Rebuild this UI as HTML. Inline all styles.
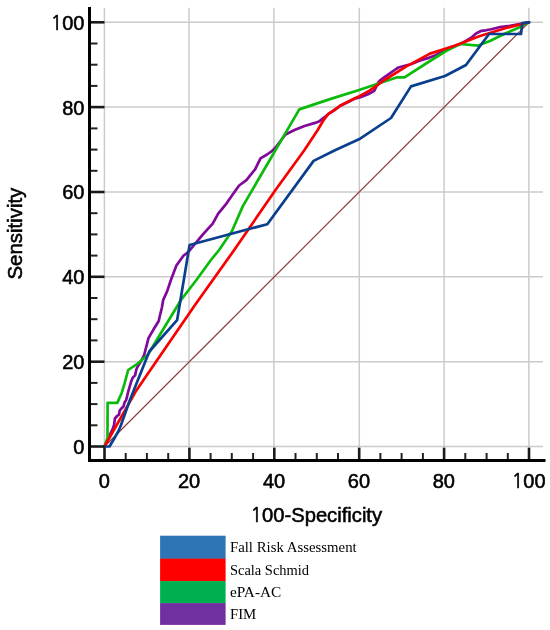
<!DOCTYPE html>
<html><head><meta charset="utf-8"><style>
html,body{margin:0;padding:0;background:#fff;}
body{width:550px;height:630px;overflow:hidden;}
svg{display:block;font-family:"Liberation Sans",Arial,sans-serif;}
text.s{stroke:#000;stroke-width:0.55px;}
</style></head><body>
<svg width="550" height="630" viewBox="0 0 550 630">
<line x1="104.4" y1="7.8" x2="104.4" y2="446.5" stroke="#cbcbcb" stroke-width="1.5"/>
<line x1="189.0" y1="7.8" x2="189.0" y2="446.5" stroke="#cbcbcb" stroke-width="1.5"/>
<line x1="273.9" y1="7.8" x2="273.9" y2="446.5" stroke="#cbcbcb" stroke-width="1.5"/>
<line x1="359.3" y1="7.8" x2="359.3" y2="446.5" stroke="#cbcbcb" stroke-width="1.5"/>
<line x1="444.1" y1="7.8" x2="444.1" y2="446.5" stroke="#cbcbcb" stroke-width="1.5"/>
<line x1="528.9" y1="7.8" x2="528.9" y2="446.5" stroke="#cbcbcb" stroke-width="1.5"/>
<line x1="104.5" y1="446.5" x2="543" y2="446.5" stroke="#cbcbcb" stroke-width="1.5"/>
<line x1="104.5" y1="361.7" x2="543" y2="361.7" stroke="#cbcbcb" stroke-width="1.5"/>
<line x1="104.5" y1="276.8" x2="543" y2="276.8" stroke="#cbcbcb" stroke-width="1.5"/>
<line x1="104.5" y1="192.0" x2="543" y2="192.0" stroke="#cbcbcb" stroke-width="1.5"/>
<line x1="104.5" y1="107.1" x2="543" y2="107.1" stroke="#cbcbcb" stroke-width="1.5"/>
<line x1="104.5" y1="22.3" x2="543" y2="22.3" stroke="#cbcbcb" stroke-width="1.5"/>
<line x1="104.5" y1="446.5" x2="529.0" y2="22.3" stroke="#8e3a3e" stroke-width="1.2"/>
<polyline points="104.5,446.5 112.8,428.5 114.1,425.0 114.9,418.5 117.1,416.0 119.0,414.6 119.8,410.3 121.7,408.1 123.4,406.7 124.7,402.1 126.1,400.2 126.9,397.2 128.3,391.3 131.1,381.7 132.7,377.8 135.1,375.4 136.3,369.8 137.4,367.1 139.4,363.9 141.8,359.9 144.2,354.8 145.4,350.0 146.2,347.0 148.5,338.2 153.6,329.3 158.7,321.0 160.0,315.3 161.9,307.6 163.2,300.0 167.3,290.9 170.9,280.0 176.4,265.5 183.6,255.5 186.4,253.6 190.0,250.0 198.2,240.0 204.5,232.7 212.7,223.6 218.2,213.6 226.4,203.6 232.7,194.5 239.1,185.5 246.4,180.2 255.1,169.3 260.5,158.4 267.1,154.5 272.5,150.7 276.9,145.8 285.5,134.5 294.5,130.0 304.5,126.0 315.0,122.9 319.4,121.3 323.2,118.0 326.0,116.0 328.6,113.8 333.0,111.1 340.0,106.0 354.5,98.7 359.6,97.5 368.0,94.3 374.2,90.9 378.5,82.2 380.5,80.0 385.9,76.2 396.8,68.5 398.5,67.5 406.6,65.3 411.0,64.2 418.6,60.9 429.5,57.6 435.0,55.5 450.0,47.6 461.8,43.4 471.6,37.4 476.0,33.5 481.5,30.8 485.8,30.3 491.3,29.2 500.0,27.0 510.0,25.8 529.0,22.3" fill="none" stroke="#82089a" stroke-width="2.7" stroke-linejoin="round" stroke-linecap="round"/>
<polyline points="104.5,446.5 107.5,438.0 107.6,402.9 117.3,402.9 121.8,392.7 124.5,383.6 128.2,370.0 137.7,363.6 147.9,354.7 155.5,342.0 181.0,300.0 196.4,280.0 210.9,260.0 219.1,250.0 232.0,231.0 242.7,206.4 299.3,109.4 330.0,99.1 359.1,90.0 375.5,84.5 397.3,77.3 404.5,77.3 430.0,61.0 446.0,51.0 460.0,44.0 478.0,45.6 490.0,41.0 504.0,34.0 518.0,28.0 529.0,22.3" fill="none" stroke="#0cba0c" stroke-width="2.7" stroke-linejoin="round" stroke-linecap="round"/>
<polyline points="104.5,446.5 135.5,391.8 143.5,380.0 195.0,305.0 234.2,250.0 275.5,190.0 304.5,150.0 317.7,130.0 323.2,120.7 328.6,113.6 333.0,110.9 340.0,105.8 354.5,98.5 360.4,95.6 369.1,90.9 376.4,85.8 384.5,80.0 406.4,66.4 430.0,53.6 454.0,46.0 480.0,36.0 506.0,28.0 529.0,22.3" fill="none" stroke="#f80000" stroke-width="2.7" stroke-linejoin="round" stroke-linecap="round"/>
<polyline points="104.5,446.5 109.5,446.5 115.3,436.7 118.5,431.0 121.0,425.0 129.9,400.0 149.3,351.5 177.1,320.2 189.6,245.0 267.3,224.2 313.6,160.9 335.5,150.0 359.0,139.3 391.0,118.0 411.0,86.4 445.0,76.0 466.0,65.0 489.0,34.0 521.0,34.0 522.4,23.0 529.0,22.3" fill="none" stroke="#0a3f8e" stroke-width="2.7" stroke-linejoin="round" stroke-linecap="round"/>
<line x1="89.5" y1="7" x2="89.5" y2="462" stroke="#000" stroke-width="3"/>
<line x1="88" y1="460.5" x2="545.5" y2="460.5" stroke="#000" stroke-width="3"/>
<line x1="91" y1="446.5" x2="104.5" y2="446.5" stroke="#1a1a1a" stroke-width="2.6"/>
<line x1="91" y1="425.3" x2="97.5" y2="425.3" stroke="#222" stroke-width="2"/>
<line x1="91" y1="404.1" x2="97.5" y2="404.1" stroke="#222" stroke-width="2"/>
<line x1="91" y1="382.9" x2="97.5" y2="382.9" stroke="#222" stroke-width="2"/>
<line x1="91" y1="361.7" x2="104.5" y2="361.7" stroke="#1a1a1a" stroke-width="2.6"/>
<line x1="91" y1="340.4" x2="97.5" y2="340.4" stroke="#222" stroke-width="2"/>
<line x1="91" y1="319.2" x2="97.5" y2="319.2" stroke="#222" stroke-width="2"/>
<line x1="91" y1="298.0" x2="97.5" y2="298.0" stroke="#222" stroke-width="2"/>
<line x1="91" y1="276.8" x2="104.5" y2="276.8" stroke="#1a1a1a" stroke-width="2.6"/>
<line x1="91" y1="255.6" x2="97.5" y2="255.6" stroke="#222" stroke-width="2"/>
<line x1="91" y1="234.4" x2="97.5" y2="234.4" stroke="#222" stroke-width="2"/>
<line x1="91" y1="213.2" x2="97.5" y2="213.2" stroke="#222" stroke-width="2"/>
<line x1="91" y1="192.0" x2="104.5" y2="192.0" stroke="#1a1a1a" stroke-width="2.6"/>
<line x1="91" y1="170.8" x2="97.5" y2="170.8" stroke="#222" stroke-width="2"/>
<line x1="91" y1="149.6" x2="97.5" y2="149.6" stroke="#222" stroke-width="2"/>
<line x1="91" y1="128.4" x2="97.5" y2="128.4" stroke="#222" stroke-width="2"/>
<line x1="91" y1="107.1" x2="104.5" y2="107.1" stroke="#1a1a1a" stroke-width="2.6"/>
<line x1="91" y1="85.9" x2="97.5" y2="85.9" stroke="#222" stroke-width="2"/>
<line x1="91" y1="64.7" x2="97.5" y2="64.7" stroke="#222" stroke-width="2"/>
<line x1="91" y1="43.5" x2="97.5" y2="43.5" stroke="#222" stroke-width="2"/>
<line x1="91" y1="22.3" x2="104.5" y2="22.3" stroke="#1a1a1a" stroke-width="2.6"/>
<line x1="104.5" y1="447.6" x2="104.5" y2="459" stroke="#1a1a1a" stroke-width="2.6"/>
<line x1="125.7" y1="453" x2="125.7" y2="459" stroke="#222" stroke-width="2"/>
<line x1="146.9" y1="453" x2="146.9" y2="459" stroke="#222" stroke-width="2"/>
<line x1="168.2" y1="453" x2="168.2" y2="459" stroke="#222" stroke-width="2"/>
<line x1="189.4" y1="447.6" x2="189.4" y2="459" stroke="#1a1a1a" stroke-width="2.6"/>
<line x1="210.6" y1="453" x2="210.6" y2="459" stroke="#222" stroke-width="2"/>
<line x1="231.8" y1="453" x2="231.8" y2="459" stroke="#222" stroke-width="2"/>
<line x1="253.1" y1="453" x2="253.1" y2="459" stroke="#222" stroke-width="2"/>
<line x1="274.3" y1="447.6" x2="274.3" y2="459" stroke="#1a1a1a" stroke-width="2.6"/>
<line x1="295.5" y1="453" x2="295.5" y2="459" stroke="#222" stroke-width="2"/>
<line x1="316.8" y1="453" x2="316.8" y2="459" stroke="#222" stroke-width="2"/>
<line x1="338.0" y1="453" x2="338.0" y2="459" stroke="#222" stroke-width="2"/>
<line x1="359.2" y1="447.6" x2="359.2" y2="459" stroke="#1a1a1a" stroke-width="2.6"/>
<line x1="380.4" y1="453" x2="380.4" y2="459" stroke="#222" stroke-width="2"/>
<line x1="401.6" y1="453" x2="401.6" y2="459" stroke="#222" stroke-width="2"/>
<line x1="422.9" y1="453" x2="422.9" y2="459" stroke="#222" stroke-width="2"/>
<line x1="444.1" y1="447.6" x2="444.1" y2="459" stroke="#1a1a1a" stroke-width="2.6"/>
<line x1="465.3" y1="453" x2="465.3" y2="459" stroke="#222" stroke-width="2"/>
<line x1="486.6" y1="453" x2="486.6" y2="459" stroke="#222" stroke-width="2"/>
<line x1="507.8" y1="453" x2="507.8" y2="459" stroke="#222" stroke-width="2"/>
<line x1="529.0" y1="447.6" x2="529.0" y2="459" stroke="#1a1a1a" stroke-width="2.6"/>
<text x="84.4" y="453.6" class="s" text-anchor="end" font-size="20">0</text>
<text x="84.4" y="368.8" class="s" text-anchor="end" font-size="20">20</text>
<text x="84.4" y="283.9" class="s" text-anchor="end" font-size="20">40</text>
<text x="84.4" y="199.1" class="s" text-anchor="end" font-size="20">60</text>
<text x="84.4" y="115.0" class="s" text-anchor="end" font-size="20">80</text>
<text x="84.4" y="30.2" class="s" text-anchor="end" font-size="20"><tspan font-family="NanumGothic, Liberation Sans, sans-serif" font-size="19">1</tspan>00</text>
<text x="104.2" y="488.1" class="s" text-anchor="middle" font-size="20">0</text>
<text x="189.1" y="488.1" class="s" text-anchor="middle" font-size="20">20</text>
<text x="274.0" y="488.1" class="s" text-anchor="middle" font-size="20">40</text>
<text x="358.9" y="488.1" class="s" text-anchor="middle" font-size="20">60</text>
<text x="443.8" y="488.1" class="s" text-anchor="middle" font-size="20">80</text>
<text x="528.7" y="488.1" class="s" text-anchor="middle" font-size="20"><tspan font-family="NanumGothic, Liberation Sans, sans-serif" font-size="19">1</tspan>00</text>
<text x="316.3" y="521.7" class="s" text-anchor="middle" font-size="20.2"><tspan font-family="NanumGothic, Liberation Sans, sans-serif" font-size="19">1</tspan>00-Specificity</text>
<text transform="translate(22.4 233.6) rotate(-90)" class="s" text-anchor="middle" font-size="20.4">Sensitivity</text>
<rect x="160.1" y="535.7" width="65.5" height="23.2" fill="#2e75b6"/>
<text transform="translate(229.9 552.1) scale(1.06 1)" font-family="Liberation Serif, serif" font-size="14">Fall Risk Assessment</text>
<rect x="160.1" y="558.6" width="65.5" height="22.8" fill="#ff0000"/>
<text transform="translate(229.9 574.7) scale(1.035 1)" font-family="Liberation Serif, serif" font-size="14">Scala Schmid</text>
<rect x="160.1" y="581.1" width="65.5" height="22.3" fill="#00b050"/>
<text transform="translate(229.9 597.2) scale(1.095 1)" font-family="Liberation Serif, serif" font-size="14">ePA-AC</text>
<rect x="160.1" y="603.1" width="65.5" height="21.8" fill="#7030a0"/>
<text transform="translate(229.9 619.2) scale(1.06 1)" font-family="Liberation Serif, serif" font-size="14">FIM</text>
</svg>
</body></html>
